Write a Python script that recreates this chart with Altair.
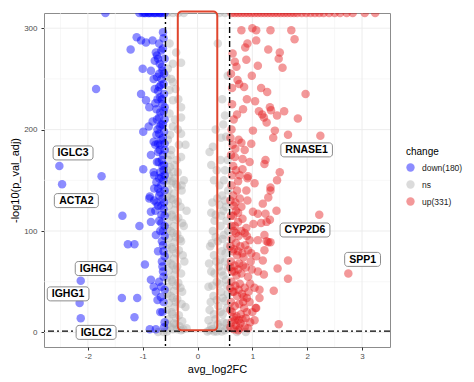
import altair as alt
import pandas as pd

# ---------------- data ----------------
change_levels = ["down(180)", "ns", "up(331)"]
change_colors = ["#0000FF", "#B0B0B0", "#E41A1C"]

down_pts = [
    (-1.68, 315), (-1.06, 315), (-1.0, 315), (-0.95, 315), (-0.9, 315), (-0.85, 315), (-0.8, 315),
    (-0.75, 315), (-0.7, 315), (-0.65, 315), (-0.6, 315), (-0.97, 315), (-0.88, 315), (-0.78, 315), (-0.68, 315),
    (-1.11, 291), (-1.22, 279), (-1.03, 288), (-0.94, 286), (-0.82, 288), (-0.63, 296), (-0.74, 273),
    (-0.72, 270), (-0.76, 276), (-1.0, 260), (-0.85, 258), (-1.85, 240), (-1.03, 235), (-0.94, 229),
    (-0.80, 250), (-0.70, 255), (-0.65, 262), (-0.62, 245), (-0.78, 240), (-0.68, 232), (-0.88, 222),
    (-0.75, 220), (-0.64, 225), (-0.70, 212), (-0.82, 208), (-0.60, 210), (-0.99, 198), (-0.89, 203),
    (-0.69, 203), (-0.75, 195), (-0.63, 192), (-0.80, 188), (-0.68, 185), (-0.60, 180), (-0.85, 175),
    (-0.72, 178), (-0.65, 170), (-0.99, 161), (-0.80, 158), (-0.62, 160), (-0.70, 152), (-0.79, 155),
    (-0.66, 145), (-0.79, 142), (-0.60, 140), (-0.88, 132), (-0.79, 130), (-0.70, 135), (-0.87, 134),
    (-0.85, 119), (-0.85, 109), (-0.66, 116), (-0.66, 108), (-0.76, 96), (-0.63, 86), (-0.72, 125),
    (-0.62, 122), (-0.68, 100),
    (-2.52, 164), (-2.47, 146), (-1.75, 154), (-1.37, 115), (-1.06, 105), (-1.27, 87), (-1.15, 87),
    (-0.96, 67), (-2.13, 51), (-2.15, 29), (-2.13, 14), (-1.38, 34), (-1.10, 34), (-1.15, 15),
    (-0.85, 52), (-0.76, 40), (-0.66, 45), (-0.63, 60), (-0.73, 32), (-0.87, 3), (-0.76, 3),
    (-0.70, 50), (-0.62, 30), (-0.68, 20), (-0.60, 10), (-0.65, 70), (-0.72, 80),
    (-0.60, 270), (-0.63, 280), (-0.66, 250), (-0.61, 255), (-0.70, 242), (-0.61, 235), (-0.73, 230),
    (-0.62, 218), (-0.66, 205), (-0.73, 200), (-0.61, 198), (-0.77, 185), (-0.63, 175), (-0.74, 168),
    (-0.61, 165), (-0.68, 158), (-0.75, 148), (-0.62, 150), (-0.72, 142), (-0.64, 132), (-0.77, 120),
    (-0.60, 115), (-0.70, 110), (-0.60, 95), (-0.65, 90), (-0.60, 75), (-0.62, 55), (-0.67, 35),
    (-0.80, 45), (-0.64, 20),
    (-0.62, 290), (-0.70, 285), (-0.66, 278), (-0.78, 268), (-0.69, 265), (-0.64, 258), (-0.74, 252),
    (-0.67, 244), (-0.72, 238), (-0.65, 230), (-0.77, 226), (-0.60, 222), (-0.68, 217), (-0.74, 210),
    (-0.63, 205), (-0.70, 196), (-0.66, 190), (-0.72, 186), (-0.60, 186), (-0.69, 180), (-0.64, 164),
    (-0.71, 168), (-0.66, 153), (-0.60, 155), (-0.68, 138), (-0.61, 128), (-0.75, 128), (-0.66, 125),
    (-0.60, 105), (-0.63, 100), (-0.62, 80), (-0.64, 65), (-0.60, 42), (-0.61, 5),
]

ns_pts = [
    (-0.55, 315), (-0.45, 315), (-0.35, 315), (-0.25, 315), (0.40, 315), (0.50, 315),
    (-0.51, 285), (-0.39, 276), (-0.30, 266), (-0.45, 265), (-0.54, 260), (-0.57, 252), (-0.45, 247),
    (-0.51, 239), (-0.30, 222), (-0.45, 229), (-0.30, 212), (-0.51, 216), (-0.45, 203), (-0.30, 196),
    (-0.54, 190), (-0.48, 180), (-0.30, 173), (-0.53, 170), (-0.42, 165), (-0.55, 160), (-0.36, 158),
    (-0.22, 185), (-0.25, 150), (-0.20, 120),
    (0.37, 285), (0.55, 253), (0.50, 214), (0.43, 192), (0.22, 178), (0.28, 183), (0.52, 193),
    (0.45, 230), (0.55, 170), (0.35, 160), (0.48, 150), (0.56, 140),
    (-0.52, 155), (-0.42, 152), (-0.48, 147), (-0.37, 144), (-0.53, 140), (-0.43, 137), (-0.49, 132),
    (-0.36, 129), (-0.52, 125), (-0.42, 121), (-0.47, 116), (-0.35, 113), (-0.53, 109), (-0.43, 105),
    (-0.49, 100), (-0.37, 97), (-0.52, 93), (-0.42, 89), (-0.47, 84), (-0.34, 81), (-0.53, 77),
    (-0.43, 73), (-0.49, 68), (-0.37, 65), (-0.52, 61), (-0.42, 57), (-0.47, 52), (-0.35, 49),
    (-0.53, 45), (-0.43, 41), (-0.49, 36), (-0.37, 33), (-0.52, 29), (-0.42, 25), (-0.47, 20),
    (-0.34, 17), (-0.53, 13), (-0.43, 9), (-0.49, 5), (-0.37, 3), (-0.30, 2), (-0.56, 1),
    (-0.28, 40), (-0.30, 90), (-0.29, 140), (-0.24, 70), (-0.22, 25), (-0.25, 105), (-0.20, 4),
    (-0.56, 150), (-0.46, 149), (-0.39, 146), (-0.29, 145), (-0.55, 134), (-0.45, 131), (-0.40, 127),
    (-0.31, 124), (-0.56, 118), (-0.46, 114), (-0.39, 111), (-0.28, 108), (-0.55, 102), (-0.45, 98),
    (-0.40, 94), (-0.32, 92), (-0.56, 86), (-0.46, 82), (-0.39, 78), (-0.27, 76), (-0.55, 70),
    (-0.45, 66), (-0.40, 62), (-0.30, 58), (-0.56, 54), (-0.46, 50), (-0.39, 46), (-0.31, 44),
    (-0.55, 38), (-0.45, 34), (-0.40, 30), (-0.29, 28), (-0.56, 22), (-0.46, 18), (-0.39, 14),
    (-0.28, 11), (-0.55, 8), (-0.45, 3), (-0.40, 8), (-0.33, 6), (-0.26, 3),
    (-0.50, 163), (-0.44, 158), (-0.38, 170), (-0.49, 175), (-0.34, 185), (-0.50, 195), (-0.41, 210),
    (-0.35, 230), (-0.48, 250), (-0.40, 240), (-0.36, 200),
    (0.50, 130), (0.40, 126), (0.47, 120), (0.33, 116), (0.53, 110), (0.42, 105), (0.28, 100),
    (0.48, 96), (0.37, 90), (0.54, 85), (0.44, 80), (0.30, 76), (0.50, 70), (0.39, 65), (0.25, 60),
    (0.47, 56), (0.35, 50), (0.54, 46), (0.43, 40), (0.29, 36), (0.50, 31), (0.38, 26), (0.22, 22),
    (0.46, 18), (0.33, 13), (0.53, 9), (0.41, 5), (0.27, 3), (0.18, 1), (0.50, 2), (0.35, 1),
    (0.20, 45), (0.23, 85), (0.88, 0.3), (0.72, 0.5), (-0.72, 0.5), (-0.62, 0.4),
    (0.45, 135), (0.36, 132), (0.27, 128), (0.52, 124), (0.43, 115), (0.31, 110), (0.25, 118),
    (0.56, 100), (0.46, 92), (0.33, 94), (0.26, 88), (0.51, 78), (0.41, 72), (0.34, 70), (0.21, 68),
    (0.56, 64), (0.44, 60), (0.31, 58), (0.52, 52), (0.40, 48), (0.27, 46), (0.55, 38), (0.46, 34),
    (0.35, 32), (0.24, 30), (0.54, 24), (0.42, 20), (0.30, 18), (0.20, 12), (0.47, 10), (0.37, 8),
    (0.25, 6), (0.55, 4), (0.44, 1), (0.30, 0.8), (0.22, 2), (0.40, 145), (0.30, 150), (0.50, 160),
    (0.42, 170), (0.33, 200), (0.47, 205), (0.25, 165),
]

up_pts = [
    (0.62, 315), (0.68, 315), (0.74, 315), (0.80, 315), (0.86, 315), (0.92, 315), (0.98, 315),
    (1.04, 315), (1.10, 315), (1.16, 315), (1.22, 315), (1.28, 315), (1.34, 315), (1.40, 315),
    (1.46, 315), (1.52, 315), (1.58, 315), (1.64, 315), (1.70, 315), (1.76, 315), (1.82, 315),
    (1.90, 315), (1.98, 315), (2.06, 315), (2.14, 315), (2.22, 315), (2.30, 315), (2.40, 315),
    (2.50, 315), (2.60, 315), (2.72, 315), (2.83, 315), (3.05, 315), (3.24, 315),
    (0.80, 298), (1.00, 300), (1.07, 298), (1.33, 298), (1.71, 298), (1.77, 289), (1.07, 288),
    (0.91, 285), (0.87, 281), (1.29, 279), (1.50, 276), (1.48, 270), (0.68, 267), (0.89, 269),
    (0.71, 262), (1.10, 263), (1.55, 261), (0.99, 253), (0.73, 249), (0.76, 245), (0.63, 241),
    (0.85, 242), (1.16, 241), (1.27, 237), (1.97, 235), (0.90, 230), (1.05, 228), (1.32, 222),
    (0.83, 220), (1.12, 218), (1.18, 215), (1.34, 219), (1.45, 214), (1.58, 218), (0.72, 215),
    (1.83, 211), (1.26, 207), (1.21, 212), (1.01, 199), (1.41, 199), (1.38, 192), (1.65, 195),
    (2.24, 194), (0.80, 187), (0.98, 186), (0.69, 181), (0.86, 180), (0.60, 192), (0.82, 171),
    (0.95, 168), (1.24, 170), (1.22, 166), (0.65, 164), (1.50, 158), (0.82, 161), (0.92, 154),
    (0.74, 149), (1.04, 147), (1.45, 150), (1.33, 143), (0.77, 155), (0.91, 152), (1.33, 140),
    (0.89, 140), (0.65, 135), (0.77, 132), (0.91, 130), (1.29, 133), (1.19, 127), (0.80, 124),
    (1.01, 119), (1.10, 117), (1.24, 117), (1.44, 120), (2.22, 116), (0.74, 109), (0.68, 105),
    (0.89, 103), (1.02, 107), (1.26, 109), (1.22, 96), (0.86, 98), (1.32, 111), (1.16, 108),
    (1.65, 71), (1.46, 63), (1.65, 53), (1.39, 41), (1.48, 8), (1.29, 89), (1.10, 60), (1.13, 42),
    (1.06, 24), (0.98, 78), (1.21, 57), (1.19, 71), (1.07, 75), (0.92, 81), (1.22, 81), (1.26, 90),
    (1.33, 89), (1.10, 91), (0.95, 91), (1.04, 44), (1.13, 34), (1.07, 24), (1.04, 12), (2.75, 58),
    (0.62, 92), (0.70, 88), (0.78, 85), (0.64, 80), (0.72, 76), (0.84, 74), (0.61, 70), (0.68, 66),
    (0.76, 68), (0.88, 64), (0.63, 60), (0.71, 56), (0.80, 58), (0.92, 55), (0.62, 50), (0.69, 46),
    (0.77, 48), (0.86, 44), (0.96, 48), (0.64, 40), (0.72, 36), (0.81, 38), (0.90, 34), (0.61, 30),
    (0.68, 26), (0.76, 28), (0.85, 24), (0.95, 30), (0.63, 20), (0.71, 16), (0.79, 18), (0.88, 14),
    (0.62, 10), (0.70, 7), (0.78, 9), (0.86, 5), (0.96, 10), (0.66, 3), (0.74, 2), (0.82, 13),
    (1.00, 20), (0.92, 4), (0.99, 62), (0.87, 86), (0.66, 100), (0.75, 95),
    (0.62, 200), (0.64, 185), (0.61, 175), (0.63, 155), (0.62, 145), (0.66, 125), (0.61, 115),
    (0.70, 120), (0.72, 140), (0.70, 160), (0.68, 173), (0.75, 190), (0.63, 225), (0.66, 210),
    (0.61, 255), (0.64, 275),
    (0.60, 85), (0.66, 82), (0.74, 80), (0.82, 78), (0.60, 64), (0.67, 60), (0.74, 62), (0.83, 66),
    (0.60, 44), (0.66, 40), (0.75, 42), (0.84, 35), (0.60, 22), (0.66, 15), (0.75, 12), (0.83, 30),
    (0.60, 5), (0.68, 12), (0.77, 4), (0.90, 20), (0.93, 40), (0.97, 70), (0.90, 95), (0.80, 100),
    (0.70, 98), (0.62, 105), (0.65, 115), (0.74, 118), (0.82, 112), (0.60, 130), (0.69, 128),
]

label_genes = ["IGLC3", "ACTA2", "IGHG4", "IGHG1", "IGLC2", "RNASE1", "CYP2D6", "SPP1"]
label_x = [-2.27, -2.21, -1.85, -2.36, -1.85, 1.99, 1.96, 3.01]
label_y = [177, 130, 63, 38, 0, 180, 101, 72]

x_major = [-2, -1, 0, 1, 2, 3]
x_minor = [-2.5, -1.5, -0.5, 0.5, 1.5, 2.5]
y_major = [0, 100, 200, 300]
y_minor = [50, 150, 250]
fc_cut = [-0.585, 0.585]
p_cut = [1.3]
box_x = [-0.36, 0.36]
box_y = [2, 316.5]

# ---------------- layout ----------------
X_DOM = [-2.8, 3.51]
Y_DOM = [-14.4, 315]
W, H = 346, 334
FONT = "Liberation Sans"
XT = "avg_log2FC"
YT = "-log10(p_val_adj)"

rows = []
for lvl, pts in (("ns", ns_pts), ("down(180)", down_pts), ("up(331)", up_pts)):
    for x, y in pts:
        rows.append({"x": x, "y": y, "change": lvl})
pts_df = pd.DataFrame(rows)

cw = {"A": .722, "C": .722, "D": .722, "E": .667, "G": .778, "H": .722, "I": .278, "L": .611,
      "N": .722, "P": .667, "R": .722, "S": .667, "T": .611, "Y": .667}
px_per_unit = W / (X_DOM[1] - X_DOM[0])
lab_rows = []
for g, lx, ly in zip(label_genes, label_x, label_y):
    wpx = sum(cw.get(c, .556) for c in g) * 10.5 + 9
    hw = wpx / 2 / px_per_unit
    lab_rows.append({"gene": g, "x": lx, "y": ly, "x1": lx - hw, "x2": lx + hw})
lab_df = pd.DataFrame(lab_rows)

xs = alt.Scale(domain=X_DOM, nice=False, zero=False)
ys = alt.Scale(domain=Y_DOM, nice=False, zero=False)

ax_x = alt.Axis(values=x_major, grid=False, domain=False, tickColor="#333333", tickSize=3,
                labelColor="#4D4D4D", labelFontSize=8, labelFont=FONT, labelPadding=2,
                labelExpr="'' + datum.value", titleFont=FONT, titleFontSize=11,
                titleFontWeight="normal", titleColor="#000000", titlePadding=3)
ax_y = alt.Axis(values=y_major, grid=False, domain=False, tickColor="#333333", tickSize=3,
                labelColor="#4D4D4D", labelFontSize=8, labelFont=FONT, labelPadding=4,
                titleFont=FONT, titleFontSize=11, titleFontWeight="normal",
                titleColor="#000000", titlePadding=3)


def X(f):
    return alt.X(f, scale=xs, axis=ax_x, title=XT)


def Y(f):
    return alt.Y(f, scale=ys, axis=ax_y, title=YT)


grid_minor_x = alt.Chart(pd.DataFrame({"v": x_minor})).mark_rule(color="#F2F2F2", strokeWidth=0.6).encode(x=X("v:Q"))
grid_minor_y = alt.Chart(pd.DataFrame({"v": y_minor})).mark_rule(color="#F2F2F2", strokeWidth=0.6).encode(y=Y("v:Q"))
grid_major_x = alt.Chart(pd.DataFrame({"v": x_major})).mark_rule(color="#EBEBEB", strokeWidth=0.9).encode(x=X("v:Q"))
grid_major_y = alt.Chart(pd.DataFrame({"v": y_major})).mark_rule(color="#EBEBEB", strokeWidth=0.9).encode(y=Y("v:Q"))

points = alt.Chart(pts_df).mark_circle(size=72, opacity=0.45, clip=True).encode(
    x=X("x:Q"),
    y=Y("y:Q"),
    color=alt.Color("change:N", scale=alt.Scale(domain=change_levels, range=change_colors),
                    legend=alt.Legend(title="change", orient="none", legendX=362, legendY=134,
                                      titleFont=FONT, titleFontSize=10, titleFontWeight="normal",
                                      titleColor="#000000", titlePadding=6, labelFont=FONT,
                                      labelFontSize=8.5, labelColor="#1A1A1A", symbolSize=70,
                                      symbolOpacity=0.45, symbolType="circle", symbolStrokeWidth=0,
                                      rowPadding=8, labelOffset=7, padding=0)),
)

vlines = alt.Chart(pd.DataFrame({"v": fc_cut})).mark_rule(
    color="#000000", strokeWidth=1.4, strokeDash=[6, 3, 2, 3]).encode(x=X("v:Q"))
hline = alt.Chart(pd.DataFrame({"v": p_cut})).mark_rule(
    color="#000000", strokeWidth=1.4, strokeDash=[6, 3, 2, 3]).encode(y=Y("v:Q"))

lab_box = alt.Chart(lab_df).mark_rect(fill="white", stroke="#7F7F7F", strokeWidth=0.9,
                                      cornerRadius=3, yOffset=-7, y2Offset=7).encode(
    x=X("x1:Q"), x2=alt.X2("x2:Q", title=XT), y=Y("y:Q"), y2=alt.Y2("y:Q", title=YT))
lab_text = alt.Chart(lab_df).mark_text(font=FONT, fontSize=10.5, fontWeight="bold", color="#000000",
                                       baseline="middle", dy=0.5).encode(
    x=X("x:Q"), y=Y("y:Q"), text="gene:N")

box_df = pd.DataFrame({"x1": [box_x[0]], "x2": [box_x[1]], "y1": [box_y[0]], "y2": [box_y[1]]})
red_box = alt.Chart(box_df).mark_rect(fillOpacity=0, stroke="#E0452D", strokeWidth=2,
                                      cornerRadius=4, clip=False).encode(
    x=X("x1:Q"), x2=alt.X2("x2:Q", title=XT), y=Y("y1:Q"), y2=alt.Y2("y2:Q", title=YT))

chart = alt.layer(
    grid_minor_x, grid_minor_y, grid_major_x, grid_major_y,
    points, vlines, hline, lab_box, lab_text, red_box,
).properties(
    width=W, height=H,
    padding={"left": 36, "top": 5, "right": 76, "bottom": 30},
    autosize=alt.AutoSizeParams(type="none"),
).configure_view(stroke="#8C8C8C", strokeWidth=1)

chart.save("out.html", embed_options={"renderer": "svg", "actions": False})
